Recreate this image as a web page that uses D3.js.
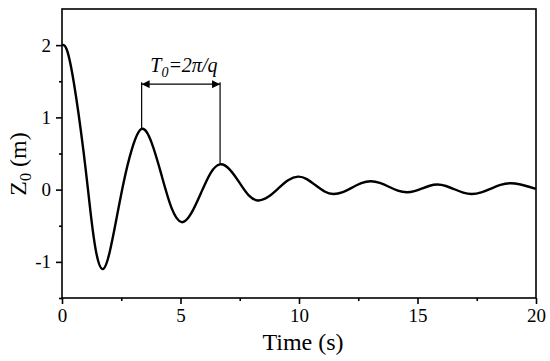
<!DOCTYPE html>
<html lang="en">
<head>
<meta charset="UTF-8">
<title>Z0 damped oscillation</title>
<script src="https://cdn.jsdelivr.net/npm/d3@7/dist/d3.min.js"></script>
<style>
  body { margin: 0; background: #fff; }
  svg text { font-family: "Liberation Serif", "Times New Roman", serif; fill: #000; }
</style>
</head>
<body>
<div id="graph"></div>
<script>
    // data
    var time = [0, 0.2, 0.5, 0.9, 1.2, 1.45, 1.72, 2.0, 2.3, 2.6, 2.95, 3.36,
        3.78, 4.2, 4.63, 5.05, 5.45, 5.86, 6.27, 6.67, 7.07, 7.48, 7.88, 8.28,
        8.7, 9.12, 9.54, 9.96, 10.33, 10.7, 11.08, 11.45, 11.85, 12.24, 12.63, 13.03,
        13.41, 13.79, 14.17, 14.55, 14.87, 15.2, 15.52, 15.84, 16.2, 16.56, 16.93, 17.29,
        17.69, 18.1, 18.5, 18.9, 19.3, 19.7, 20];
    var z0 = [2.0, 1.94, 1.48, 0.55, -0.3, -0.88, -1.1, -0.88, -0.4, 0.1, 0.56, 0.84,
        0.65, 0.2, -0.26, -0.45, -0.33, -0.05, 0.23, 0.35, 0.28, 0.1, -0.08, -0.15,
        -0.1, 0.015, 0.13, 0.18, 0.145, 0.06, -0.025, -0.06, -0.034, 0.028, 0.09, 0.115,
        0.093, 0.04, -0.015, -0.037, -0.021, 0.017, 0.054, 0.07, 0.05, 0.005, -0.041, -0.06,
        -0.038, 0.014, 0.066, 0.088, 0.075, 0.04, 0.01];
    var xTicks = [0, 5, 10, 15, 20];
    var yTicks = [-1, 0, 1, 2];
    var xMinor = [2.5, 7.5, 12.5, 17.5];
    var yMinor = [-1.5, -0.5, 0.5, 1.5];
    // period annotation: the two peaks it spans
    var periodT = [3.36, 6.67];
    var periodZ = [0.84, 0.35];
    var periodTop = 1.46;

    var width = 550, height = 361;
    var mLeft = 62, mRight = 536, mTop = 9, mBottom = 298;

    var svg = d3.select("#graph").append("svg")
        .attr("width", width).attr("height", height);

    var xScale = d3.scaleLinear().domain([0, 20]).range([mLeft, mRight]);
    var yScale = d3.scaleLinear().domain([-1.5, 2.5]).range([mBottom, mTop]);

    // frame
    svg.append("rect")
        .attr("x", mLeft).attr("y", mTop)
        .attr("width", mRight - mLeft).attr("height", mBottom - mTop)
        .attr("fill", "none").attr("stroke", "#000").attr("stroke-width", 1.6);

    // axes (plain hyphen for negatives, like the original)
    var fmt = function(d) { return String(d); };
    svg.append("g")
        .attr("transform", "translate(0," + mBottom + ")")
        .call(d3.axisBottom(xScale).tickValues(xTicks).tickSize(6).tickPadding(5).tickFormat(fmt));
    svg.append("g")
        .attr("transform", "translate(0," + mBottom + ")")
        .call(d3.axisBottom(xScale).tickValues(xMinor).tickSize(3).tickFormat(""));

    svg.append("g")
        .attr("transform", "translate(" + mLeft + ",0)")
        .call(d3.axisLeft(yScale).tickValues(yTicks).tickSize(6).tickPadding(5).tickFormat(fmt));
    svg.append("g")
        .attr("transform", "translate(" + mLeft + ",0)")
        .call(d3.axisLeft(yScale).tickValues(yMinor).tickSize(3).tickFormat(""));

    svg.selectAll(".domain").remove();
    svg.selectAll(".tick line").attr("stroke", "#000").attr("stroke-width", 1.6);
    svg.selectAll(".tick text")
        .attr("fill", "#000")
        .style("font-family", "Liberation Serif")
        .style("font-size", "19px");

    // curve
    var line = d3.line()
        .x(function(d, i) { return xScale(time[i]); })
        .y(function(d) { return yScale(d); })
        .curve(d3.curveNatural);

    svg.append("path")
        .datum(z0)
        .attr("d", line)
        .attr("fill", "none")
        .attr("stroke", "#000")
        .attr("stroke-width", 2.4);

    // period annotation
    svg.append("defs").append("marker")
        .attr("id", "arr")
        .attr("viewBox", "0 0 10 10")
        .attr("refX", 10).attr("refY", 5)
        .attr("markerWidth", 12).attr("markerHeight", 8)
        .attr("markerUnits", "userSpaceOnUse")
        .attr("orient", "auto-start-reverse")
        .append("path").attr("d", "M0,0L10,5L0,10Z").attr("fill", "#000");

    periodT.forEach(function(t, i) {
        svg.append("line")
            .attr("x1", xScale(t)).attr("x2", xScale(t))
            .attr("y1", yScale(periodTop) - 2).attr("y2", yScale(periodZ[i]))
            .attr("stroke", "#000").attr("stroke-width", 1.2);
    });
    svg.append("line")
        .attr("x1", xScale(periodT[0])).attr("x2", xScale(periodT[1]))
        .attr("y1", yScale(periodTop)).attr("y2", yScale(periodTop))
        .attr("stroke", "#000").attr("stroke-width", 1.2)
        .attr("marker-start", "url(#arr)")
        .attr("marker-end", "url(#arr)");

    var ann = svg.append("text")
        .attr("x", (xScale(periodT[0]) + xScale(periodT[1])) / 2 + 3)
        .attr("y", yScale(periodTop) - 12)
        .attr("text-anchor", "middle")
        .style("font-size", "20px")
        .style("font-style", "italic");
    ann.append("tspan").text("T");
    ann.append("tspan").attr("dy", 5).style("font-size", "14px").text("0");
    ann.append("tspan").attr("dy", -5).text("=2\u03c0/q");

    // axis titles
    svg.append("text")
        .attr("x", (mLeft + mRight) / 2 + 4)
        .attr("y", 350)
        .attr("text-anchor", "middle")
        .style("font-size", "24px")
        .text("Time (s)");

    var yt = svg.append("text")
        .attr("transform", "translate(26," + 164 + ") rotate(-90)")
        .attr("text-anchor", "middle")
        .style("font-size", "24px");
    yt.append("tspan").text("Z");
    yt.append("tspan").attr("dy", 5).style("font-size", "16px").text("0");
    yt.append("tspan").attr("dy", -5).text(" (m)");
</script>
</body>
</html>
